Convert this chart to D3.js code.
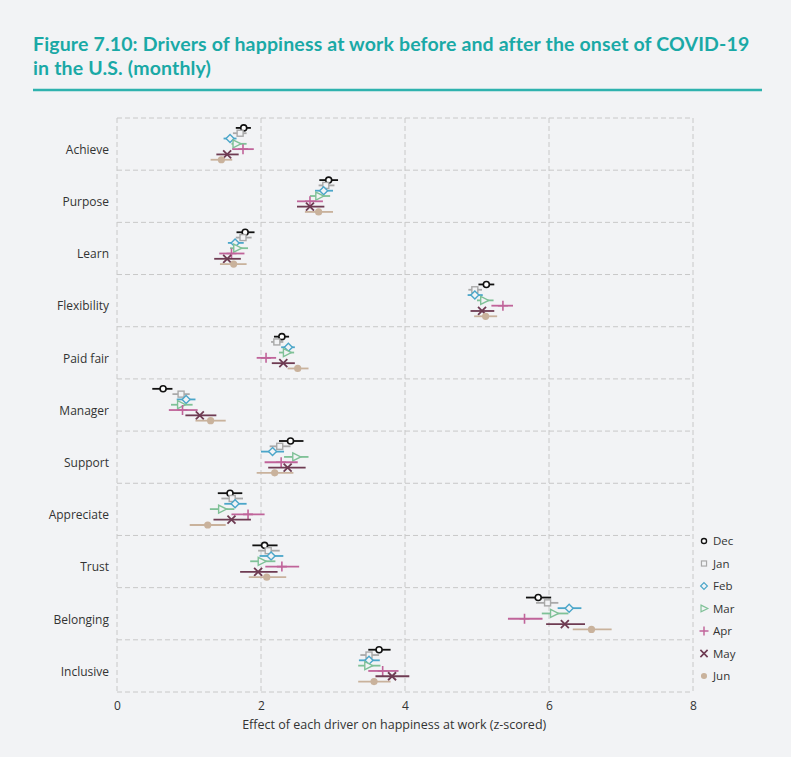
<!DOCTYPE html>
<html>
<head>
<meta charset="utf-8">
<script src="https://cdn.jsdelivr.net/npm/d3@7"></script>
<style>
  body { margin: 0; background: #f2f3f5; }
  svg { display: block; }
  .grid line { stroke: #c8c8c8; stroke-dasharray: 5,3; stroke-width: 1; }
  .axis text { font-family: "Open Sans", sans-serif; font-size: 12px; fill: #333; }
</style>
</head>
<body>
<script>
// Width and height
var w = 791;
var h = 757;
var margin = { top: 118, right: 98, bottom: 65, left: 117 };

// Categories (top to bottom) and months
var drivers = ["Achieve", "Purpose", "Learn", "Flexibility", "Paid fair", "Manager",
  "Support", "Appreciate", "Trust", "Belonging", "Inclusive"];
var months = ["Dec", "Jan", "Feb", "Mar", "Apr", "May", "Jun"];
var xTicks = [0, 2, 4, 6, 8];

// Point estimates, one array per month, in the order of drivers
var dec = [1.76, 2.94, 1.78, 5.13, 2.29, 0.64, 2.41, 1.57, 2.05, 5.85, 3.64];
var jan = [1.71, 2.90, 1.75, 4.97, 2.22, 0.89, 2.26, 1.60, 2.10, 5.98, 3.50];
var feb = [1.57, 2.87, 1.64, 4.97, 2.38, 0.96, 2.16, 1.64, 2.14, 6.28, 3.50];
var mar = [1.66, 2.81, 1.67, 5.10, 2.36, 0.89, 2.49, 1.46, 2.01, 6.07, 3.49];
var apr = [1.75, 2.68, 1.59, 5.36, 2.07, 0.91, 2.28, 1.82, 2.29, 5.66, 3.69];
var may = [1.53, 2.68, 1.53, 5.07, 2.31, 1.15, 2.37, 1.59, 1.96, 6.22, 3.82];
var jun = [1.45, 2.80, 1.62, 5.12, 2.51, 1.30, 2.19, 1.26, 2.08, 6.59, 3.57];

// Confidence interval lows and highs
var decLo = [1.65, 2.81, 1.66, 5.02, 2.18, 0.49, 2.25, 1.40, 1.88, 5.68, 3.49];
var decHi = [1.86, 3.07, 1.91, 5.24, 2.39, 0.77, 2.59, 1.74, 2.23, 6.03, 3.80];
var janLo = [1.61, 2.80, 1.65, 4.88, 2.14, 0.77, 2.12, 1.45, 1.96, 5.82, 3.38];
var janHi = [1.80, 3.02, 1.87, 5.07, 2.31, 1.01, 2.41, 1.75, 2.26, 6.13, 3.64];
var febLo = [1.48, 2.75, 1.54, 4.87, 2.28, 0.83, 2.00, 1.49, 1.98, 6.12, 3.36];
var febHi = [1.66, 3.00, 1.76, 5.08, 2.47, 1.09, 2.32, 1.80, 2.31, 6.45, 3.65];
var marLo = [1.59, 2.68, 1.57, 5.00, 2.25, 0.75, 2.32, 1.29, 1.85, 5.90, 3.35];
var marHi = [1.80, 2.96, 1.82, 5.23, 2.46, 1.05, 2.66, 1.63, 2.20, 6.27, 3.66];
var aprLo = [1.60, 2.50, 1.42, 5.20, 1.94, 0.72, 2.05, 1.59, 2.06, 5.43, 3.49];
var aprHi = [1.90, 2.86, 1.77, 5.50, 2.21, 1.12, 2.51, 2.05, 2.53, 5.91, 3.91];
var mayLo = [1.38, 2.50, 1.35, 4.91, 2.15, 0.95, 2.10, 1.34, 1.71, 5.96, 3.59];
var mayHi = [1.69, 2.88, 1.72, 5.24, 2.47, 1.38, 2.62, 1.86, 2.23, 6.50, 4.06];
var junLo = [1.30, 2.61, 1.43, 4.96, 2.37, 1.09, 1.94, 1.01, 1.83, 6.33, 3.35];
var junHi = [1.60, 3.00, 1.80, 5.28, 2.66, 1.51, 2.45, 1.51, 2.35, 6.87, 3.80];

var est = [dec, jan, feb, mar, apr, may, jun];
var lo = [decLo, janLo, febLo, marLo, aprLo, mayLo, junLo];
var hi = [decHi, janHi, febHi, marHi, aprHi, mayHi, junHi];

var colors = ["#111111", "#a9a9a9", "#4ba6c9", "#7fc197", "#c0649a", "#6e3b52", "#c9b29c"];
var symbols = ["circle", "square", "diamond", "triangle", "plus", "cross", "dot"];

// Flatten into rows
var dataset = [];
months.forEach(function (m, mi) {
  drivers.forEach(function (d, di) {
    dataset.push({ month: m, mi: mi, driver: d, v: est[mi][di], lo: lo[mi][di], hi: hi[mi][di] });
  });
});

var svg = d3.select("body").append("svg").attr("width", w).attr("height", h);

// Title
var title = svg.append("text")
  .style("font-family", "Lato, sans-serif").style("font-weight", "bold")
  .style("font-size", "19.5px").style("letter-spacing", "0.15px").style("fill", "#1aa9a6");
title.append("tspan").attr("x", 33).attr("y", 51)
  .text("Figure 7.10: Drivers of happiness at work before and after the onset of COVID-19");
title.append("tspan").attr("x", 33).attr("y", 75).text("in the U.S. (monthly)");
svg.append("line").attr("x1", 33).attr("x2", 762).attr("y1", 90).attr("y2", 90)
  .attr("stroke", "#2fb2ae").attr("stroke-width", 2.5);

var xScale = d3.scaleLinear().domain([0, 8]).range([margin.left, 693]);
var yScale = d3.scaleBand().domain(drivers).range([margin.top, h - margin.bottom]);
var bw = yScale.bandwidth();
var mScale = d3.scalePoint().domain(months).range([bw * 0.19, bw * 0.80]);

// Grid
var grid = svg.append("g").attr("class", "grid");
grid.selectAll(".v").data(xTicks).enter().append("line")
  .attr("x1", function (d) { return xScale(d); })
  .attr("x2", function (d) { return xScale(d); })
  .attr("y1", yScale.range()[0]).attr("y2", yScale.range()[1]);
var hLines = drivers.map(function (d) { return yScale(d); }).concat([yScale.range()[1]]);
grid.selectAll(".h").data(hLines).enter().append("line")
  .attr("x1", xScale(0)).attr("x2", xScale(8))
  .attr("y1", function (d) { return d; }).attr("y2", function (d) { return d; });

// Axes
var xAxis = d3.axisBottom(xScale).tickValues(xTicks).tickSize(0).tickPadding(9);
svg.append("g").attr("class", "axis")
  .attr("transform", "translate(0," + (h - margin.bottom) + ")")
  .call(xAxis).call(function (g) { g.select(".domain").remove(); });

var yAxis = d3.axisLeft(yScale).tickSize(0).tickPadding(8);
svg.append("g").attr("class", "axis")
  .attr("transform", "translate(" + margin.left + ",6)")
  .call(yAxis).call(function (g) { g.select(".domain").remove(); });

svg.append("text").attr("x", xScale(3.85)).attr("y", h - margin.bottom + 37)
  .attr("text-anchor", "middle")
  .style("font-family", "'Open Sans', sans-serif").style("font-size", "12.5px").style("fill", "#333")
  .text("Effect of each driver on happiness at work (z-scored)");

// Marker drawing
function drawMarker(g, mi, color) {
  var s = symbols[mi];
  if (s === "circle") {
    g.append("circle").attr("r", 3).attr("fill", "#fff").attr("stroke", color).attr("stroke-width", 1.6);
  } else if (s === "square") {
    g.append("rect").attr("x", -3).attr("y", -3).attr("width", 6).attr("height", 6)
      .attr("fill", "#f2f3f5").attr("stroke", color).attr("stroke-width", 1.4);
  } else if (s === "diamond") {
    g.append("path").attr("d", "M0,-4L4,0L0,4L-4,0Z")
      .attr("fill", "#f2f3f5").attr("stroke", color).attr("stroke-width", 1.4);
  } else if (s === "triangle") {
    g.append("path").attr("d", "M-3.5,-4L4.5,0L-3.5,4Z")
      .attr("fill", "#f2f3f5").attr("stroke", color).attr("stroke-width", 1.4);
  } else if (s === "plus") {
    g.append("path").attr("d", "M-5,0L5,0M0,-5L0,5").attr("stroke", color).attr("stroke-width", 1.6);
  } else if (s === "cross") {
    g.append("path").attr("d", "M-4,-4L4,4M-4,4L4,-4").attr("stroke", color).attr("stroke-width", 1.8);
  } else {
    g.append("circle").attr("r", 3.6).attr("fill", color);
  }
}

// Error bars and markers
var pts = svg.append("g").selectAll("g").data(dataset).enter().append("g")
  .attr("transform", function (d) {
    return "translate(0," + (yScale(d.driver) + mScale(d.month)) + ")";
  });
pts.append("line")
  .attr("x1", function (d) { return xScale(d.lo); })
  .attr("x2", function (d) { return xScale(d.hi); })
  .attr("stroke", function (d) { return colors[d.mi]; })
  .attr("stroke-width", 1.8);
pts.each(function (d) {
  var g = d3.select(this).append("g").attr("transform", "translate(" + xScale(d.v) + ",0)");
  drawMarker(g, d.mi, colors[d.mi]);
});

// Legend
var legend = svg.append("g").attr("transform", "translate(704,541)");
var items = legend.selectAll("g").data(months).enter().append("g")
  .attr("transform", function (d, i) { return "translate(0," + i * 22.5 + ")"; });
items.each(function (d, i) {
  var g = d3.select(this);
  var mk = g.append("g").attr("transform", i === 4 || i === 5 ? "scale(0.9)" : "scale(0.85)");
  drawMarker(mk, i, colors[i]);
});
items.append("text").attr("x", 9).attr("y", 4)
  .style("font-family", "'Open Sans', sans-serif").style("font-size", "11.5px").style("fill", "#333")
  .text(function (d) { return d; });
</script>
</body>
</html>
